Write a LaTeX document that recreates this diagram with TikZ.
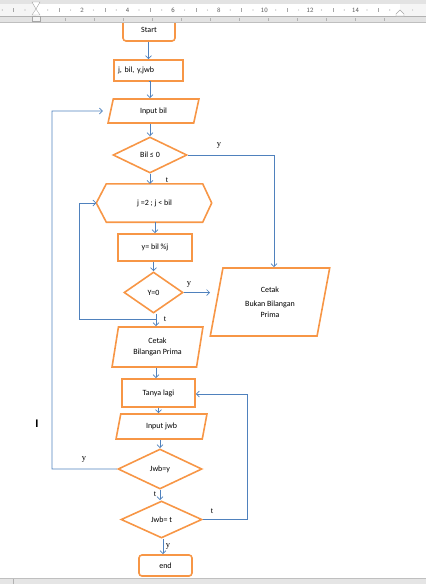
\documentclass[tikz,border=0pt]{standalone}
\usepackage{fontspec}
\setmainfont{Carlito}
\newfontfamily\labelfont{Liberation Serif}
\newfontfamily\cursorfont{Liberation Sans}
\usetikzlibrary{shapes.geometric,arrows.meta,calc}
\definecolor{jingga}{HTML}{F79646}
\definecolor{garis}{HTML}{4F81BD}

\begin{document}
\begin{tikzpicture}[x=1pt,y=-1pt,
  box node/.style={rectangle, draw=jingga, line width=1.6pt, inner sep=1pt, fill=white},
  term node/.style={box node, rounded corners=3pt},
  io node/.style={trapezium, trapezium left angle=78, trapezium right angle=102, trapezium stretches=true, draw=jingga, line width=1.6pt, inner sep=1pt, align=center},
  decision node/.style={diamond, draw=jingga, line width=1.6pt, inner sep=0pt},
  flow/.style={draw=garis, line width=0.7pt, -{Straight Barb[length=3pt,width=6pt]}},
  flow line/.style={draw=garis, line width=0.7pt},
  jawab/.style={font=\labelfont\fontsize{8.5}{9}\selectfont, inner sep=0pt}]
\tikzstyle{every node}=[font=\fontsize{8}{10.5}\selectfont]
\useasboundingbox (0,0) rectangle (426,584);

  % langkah-langkah
  \node[term node, minimum width=52, minimum height=22] (start) at (149,30) {Start};
  \node[box node, minimum width=69, minimum height=21, text width=61, align=left] (vars) at (148.5,70.5) {j, bil, y,jwb};
  \node[io node, minimum width=91, minimum height=24] (inbil) at (153.5,111) {Input bil};
  \node[decision node, minimum width=74, minimum height=36] (cek) at (150,155) {Bil ≤ 0};
  \node[minimum width=96, minimum height=38, inner sep=0pt] (loop) at (154.5,203) {j =2 ; j < bil};
  \draw[jingga, line width=1.6pt] (loop.north west) -- (loop.north east) -- ($(loop.east)+(9,0)$)
     -- (loop.south east) -- (loop.south west) -- ($(loop.west)+(-10,0)$) -- cycle;
  \coordinate (loopW) at ($(loop.west)+(-10,0)$);
  \node[box node, minimum width=74, minimum height=27] (hitung) at (155,247.5) {y= bil \%j};
  \node[decision node, minimum width=59, minimum height=41] (cekY) at (153.5,292.5) {Y=0};
  \node[io node, minimum width=91, minimum height=40] (prima) at (157.5,347) {Cetak\\Bilangan Prima};
  \node[io node, minimum width=120, minimum height=68] (bukan) at (270,302) {Cetak\\[4pt]Bukan Bilangan\\Prima};
  \node[box node, minimum width=73, minimum height=28] (tanya) at (158.5,393) {Tanya lagi};
  \node[io node, minimum width=91, minimum height=25] (injwb) at (161.5,426.5) {Input jwb};
  \node[decision node, minimum width=84, minimum height=40] (cekJ) at (160,469) {Jwb=y};
  \node[decision node, minimum width=81, minimum height=37] (cekT) at (161.5,519.5) {Jwb= t};
  \node[term node, minimum width=53, minimum height=21] (end) at (165.5,565.5) {end};

  % titik bantu
  \coordinate (kanan1) at (274,155);
  \coordinate (keluarY) at (210,292.5);
  \coordinate (balik) at (156,319);
  \coordinate (kiri1) at (79,319);
  \coordinate (kiri2) at (79,203);
  \coordinate (luar1) at (52,469);
  \coordinate (luar2) at (52,111);
  \coordinate (kanan2) at (247,519.5);
  \coordinate (kanan3) at (247,394);

  % panah
  \draw[flow] (start.south -| vars.north) -- (vars.north);
  \draw[flow] (vars.south) -- (vars.south -| 150,0) -- (150,0 |- inbil.north);
  \draw[flow] (inbil.south -| cek.north) -- (cek.north);
  \draw[flow] (cek.south) -- (cek.south |- loop.north);
  \draw[flow] (cek.east) -- (kanan1) -- (kanan1 |- bukan.north);
  \draw[flow] (loop.south -| hitung.north) -- (hitung.north);
  \draw[flow] (hitung.south -| cekY.north) -- (cekY.north);
  \draw[flow] (cekY.east) -- (keluarY);
  \draw[flow] (cekY.south -| balik) -- (balik |- prima.north);
  \draw[flow line] (balik) -- (kiri1) -- (kiri2);
  \draw[flow] (kiri2) -- (loopW);
  \draw[flow] (prima.south -| 156,0) -- (156,0 |- tanya.north);
  \draw[flow] (tanya.south) -- (tanya.south |- injwb.north);
  \draw[flow] (injwb.south -| cekJ.north) -- (cekJ.north);
  \draw[flow] (cekJ.west) -- (luar1) -- (luar2) -- ([xshift=-7pt]inbil.west);
  \draw[flow] (cekJ.south) -- (cekJ.south |- cekT.north);
  \draw[flow] (cekT.east) -- (kanan2) -- (kanan3) -- (kanan3 -| tanya.east);
  \draw[flow] (cekT.south -| 163,0) -- (163,0 |- end.north);

  % jawaban
  \node[jawab] (y1) at (219,145) {y};
  \node[jawab] (t1) at (167,180) {t};
  \node[jawab] (y2) at (189,284) {y};
  \node[jawab] (t2) at (165,319) {t};
  \node[jawab] (y3) at (84,459) {y};
  \node[jawab] (t3) at (155,494) {t};
  \node[jawab] (t4) at (212,511) {t};
  \node[jawab] (y4) at (168,546) {y};

  % kursor
  \node[font=\cursorfont\bfseries\fontsize{11}{12}\selectfont, inner sep=0pt] (kursor) at (37,424) {I};

  % penggaris atas
  \fill[gray!22] (0,0) rectangle (426,22);
  \fill[white] (36,4) rectangle (400,16);
  \fill[gray!8] (0,4) rectangle (36,16);
  \fill[gray!8] (400,4) rectangle (426,16);
  \draw[gray!60] (0,16.5) -- (426,16.5);
  \draw[gray!50] (0,22) -- (426,22);
  \foreach \n in {2,4,...,14}
    \node[font=\sffamily\fontsize{6.5}{7}\selectfont, text=gray!70!black, inner sep=0pt] (r\n) at ({36.4+22.8*\n},10) {\n};
  \foreach \n in {-1,1,3,...,15}
    \draw[gray!70] ({36.4+22.8*\n},8) -- ++(0,4);
  \foreach \n in {-2,...,16}
    \fill[gray!70] ({36.4+22.8*(\n+0.5)},10) circle (0.6);
  \foreach \k in {0,...,11}
    \draw[gray!60] ({65+29*\k},18) -- ++(0,3);
  \draw[gray!70, fill=white] (32,2) -- (40,2) -- (36,9) -- (40,15) -- (32,15) -- (36,9) -- cycle;
  \draw[gray!70, fill=gray!10] (32,16) rectangle (40,21);
  \draw[gray!70, fill=white] (396,16) -- (404,16) -- (404,14) -- (400,10) -- (396,14) -- cycle;

  % pita bawah
  \fill[gray!20] (0,578) rectangle (426,584);
  \draw[gray!50] (0,578) -- (426,578);
  \draw[gray!60] (13,579) -- (13,584);
\end{tikzpicture}
\end{document}
